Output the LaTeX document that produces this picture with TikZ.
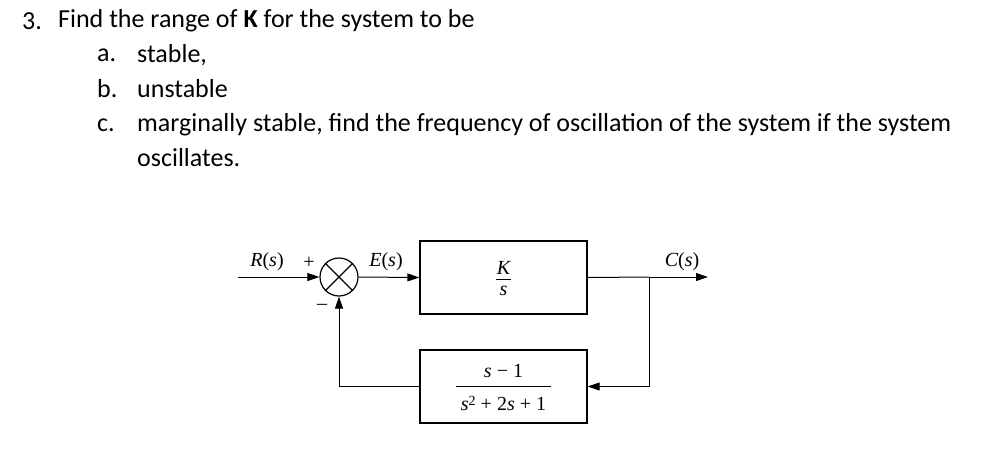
\documentclass[tikz,border=0pt]{standalone}
\usepackage{fontspec}
\setmainfont{Carlito}
\newfontfamily\tms{Liberation Serif}
\usetikzlibrary{arrows.meta}
\begin{document}
\begin{tikzpicture}[x=1pt,y=-1pt,
  txt/.style={anchor=west,inner sep=0pt,font=\fontsize{26}{30}\selectfont},
  blk/.style={draw,line width=1.4pt,minimum width=167pt,minimum height=73pt,inner sep=0pt},
  lbl/.style={font=\tms\fontsize{20}{22}\selectfont,inner sep=0pt},
  sig/.style={line width=1pt,-{Triangle[length=12pt,width=8pt]}},
  ln/.style={line width=1pt}]
\useasboundingbox[fill=white] (0,0) rectangle (985,450);
\node[txt] (n3) at (22,21) {3.};
\node[txt] (t1) at (58,21) {Find the range of \textbf{K} for the system to be};
\node[txt] (na) at (97,55) {a.};
\node[txt] (ta) at (137,55) {stable,};
\node[txt] (nb) at (97,89) {b.};
\node[txt] (tb) at (137,89) {unstable};
\node[txt] (nc) at (97,125) {c.};
\node[txt] (tc) at (137,125) {marginally stable, find the frequency of oscillation of the system if the system};
\node[txt] (td) at (137,158) {oscillates.};

\coordinate (in) at (238,277);
\node[draw,circle,line width=1.2pt,minimum size=38pt,inner sep=0pt] (sum) at (339,277) {};
\draw[line width=1.2pt] (sum.north east)--(sum.south west) (sum.north west)--(sum.south east);
\node[blk] (G) at (503.5,277.5) {};
\node[lbl] (Gn) at (503.5,268) {\itshape K};
\node[lbl] (Gd) at (503.5,291) {\itshape s};
\draw[line width=0.8pt] (496,279) -- (511,279);
\node[blk] (H) at (503.5,386.5) {};
\node[lbl] (Hn) at (503.5,371) {\itshape s\/\upshape\ − 1};
\node[lbl] (Hd) at (503.5,403) {\itshape s\/\upshape\raisebox{0.55ex}{\fontsize{14}{14}\selectfont 2} + 2\itshape s\/\upshape\ + 1};
\draw[line width=0.8pt] (456,386) -- (551,386);
\coordinate (br) at (649,277);
\coordinate (out) at (708,277);
\draw[sig] (in) -- (sum.west);
\draw[sig] (sum.east) -- (G.west);
\draw[ln] (G.east) -- (br);
\draw[sig] (br) -- (out);
\draw[sig] (br) |- (H.east);
\draw[sig] (H.west) -| (sum.south);
\node[lbl] (R) at (267,262) {\itshape R\upshape(\itshape s\upshape)};
\node[lbl] (E) at (386,262) {\itshape E\upshape(\itshape s\upshape)};
\node[lbl] (C) at (682,262) {\itshape C\upshape(\itshape s\upshape)};
\node[lbl] (p) at (309,263) {+};
\node[lbl] (m) at (322,307) {–};
\end{tikzpicture}
\end{document}
